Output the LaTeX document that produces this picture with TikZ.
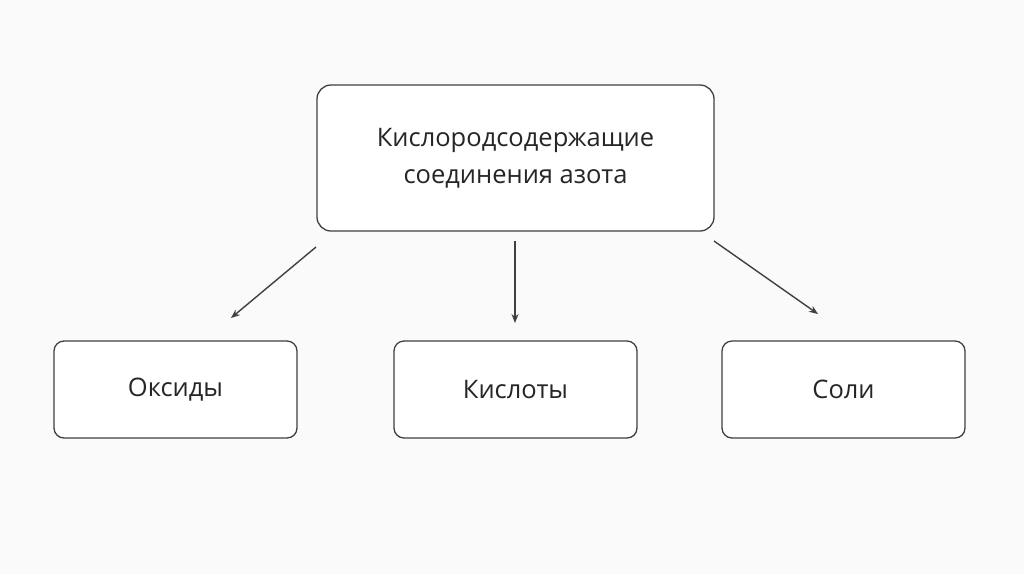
\documentclass[tikz,border=0pt]{standalone}
\usepackage{fontspec}
\usetikzlibrary{arrows.meta}
\setmainfont{Open Sans}
\begin{document}
\begin{tikzpicture}[x=1pt,y=-1pt,
  box/.style={draw=black!75,line width=1.3pt,fill=white,rounded corners=14pt,align=center,font=\fontsize{25.5}{37}\selectfont,text=black!85},
  arr/.style={draw=black!75,line width=1.4pt,-{Stealth[length=9pt,width=7pt]}}]
\fill[black!2] (0,0) rectangle (1024,574);
\useasboundingbox (0,0) rectangle (1024,574);
\node[box,minimum width=397pt,minimum height=146pt] (top) at (515.5,158) {Кислородсодержащие\\соединения азота};
\node[box,rounded corners=10pt,minimum width=243pt,minimum height=97pt] (a) at (175.5,389.5) {Оксиды};
\node[box,rounded corners=10pt,minimum width=243pt,minimum height=97pt] (b) at (515.5,389.5) {Кислоты};
\node[box,rounded corners=10pt,minimum width=243pt,minimum height=97pt] (c) at (843.5,389.5) {Соли};
\coordinate (s1) at (316,247); \coordinate (e1) at (231,318);
\coordinate (s2) at (515,241); \coordinate (e2) at (515,323);
\coordinate (s3) at (714,241); \coordinate (e3) at (818,314);
\draw[arr] (s1) -- (e1);
\draw[arr] (s2) -- (e2);
\draw[arr] (s3) -- (e3);
\end{tikzpicture}
\end{document}
